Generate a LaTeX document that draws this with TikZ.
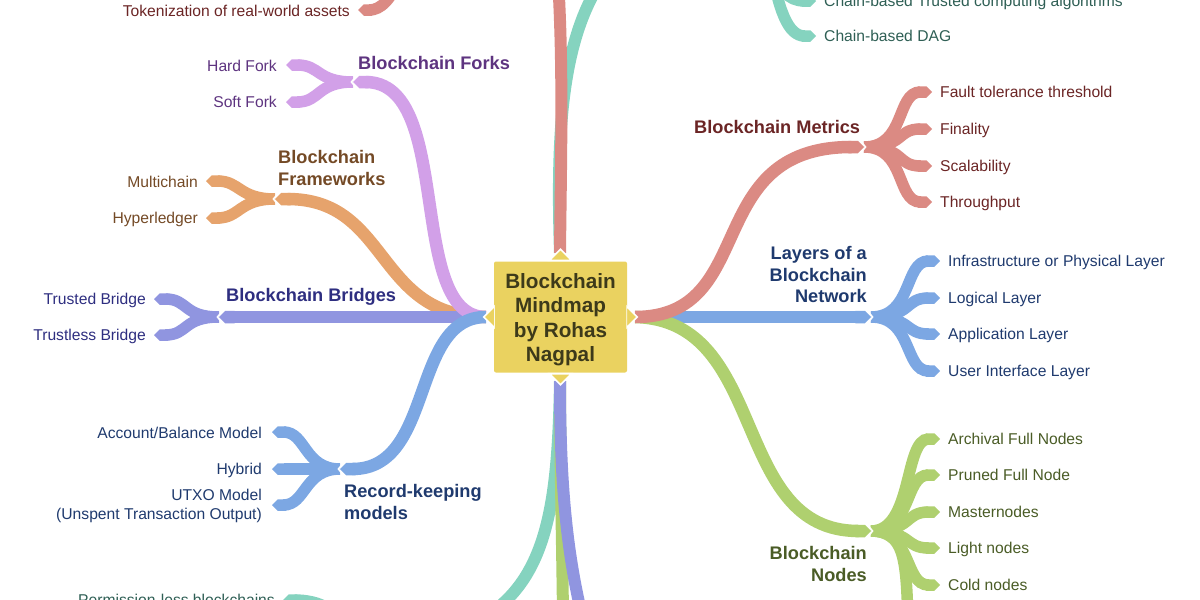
\documentclass[tikz,border=0pt]{standalone}
\usepackage{fontspec}
\setmainfont{Liberation Sans}
\usetikzlibrary{arrows.meta}
\definecolor{cred}{HTML}{DB8A83}\definecolor{tred}{HTML}{6B2525}
\definecolor{cteal}{HTML}{85D3BF}\definecolor{tteal}{HTML}{2F5F55}
\definecolor{cblue}{HTML}{7CA7E3}\definecolor{tblue}{HTML}{1F3A6E}
\definecolor{cgreen}{HTML}{AFD06F}\definecolor{tgreen}{HTML}{4A5C26}
\definecolor{cpurple}{HTML}{D2A0E8}\definecolor{tpurple}{HTML}{5E3480}
\definecolor{corange}{HTML}{E6A36C}\definecolor{torange}{HTML}{744A26}
\definecolor{cindigo}{HTML}{9095E0}\definecolor{tindigo}{HTML}{2E2E80}
\definecolor{cyel}{HTML}{EAD260}\definecolor{tyel}{HTML}{3D3A1A}
\tikzset{
 branch/.style={line width=12.5pt,line cap=butt,-{Triangle Cap[]}},
 leafline/.style={line width=11.5pt,line cap=butt,-{Triangle Cap[]}},
 chevron/.style={draw=white,line width=1.6pt,line join=miter},
 lbl/.style={inner sep=0pt,text height=12pt,text depth=1pt,yshift=-0.4pt,font=\fontsize{15.65}{21}\selectfont},
 ll/.style={lbl,anchor=east,align=right},
 lr/.style={lbl,anchor=west,align=left},
 head/.style={inner sep=0pt,font=\fontsize{18.2}{21.8}\bfseries\selectfont},
 central/.style={fill=cyel,rounded corners=2pt,minimum width=133pt,minimum height=111pt,inner sep=0pt},
 centraltext/.style={inner sep=0pt,align=center,text=tyel,font=\fontsize{20.7}{24.5}\bfseries\selectfont},
 pointer/.style={fill=cyel,draw=white,line width=1.6pt,line join=miter}
}
\newcommand\leafR[3]{\draw[leafline,#1] (#2) .. controls +(42,0) and +(-36,0) .. (#3);}
\newcommand\leafL[3]{\draw[leafline,#1] (#2) .. controls +(-36,0) and +(34,0) .. (#3);}
\newcommand\chevR[1]{\draw[chevron] ([shift={(-5,-8)}]#1) -- ([shift={(1.5,0)}]#1) -- ([shift={(-5,8)}]#1);}
\newcommand\chevL[1]{\draw[chevron] ([shift={(5,-8)}]#1) -- ([shift={(-1.5,0)}]#1) -- ([shift={(5,8)}]#1);}
\begin{document}
\begin{tikzpicture}[x=1pt,y=-1pt]
\useasboundingbox (0,0) rectangle (1200,600);
\clip (0,0) rectangle (1200,600);
% central anchors
\coordinate (cw) at (486,317);
\coordinate (ce) at (635,317);
\coordinate (cn) at (560,253);
\coordinate (cs) at (560,381);
% hubs
\coordinate (hMet) at (864,147);
\coordinate (hLay) at (871,317);
\coordinate (hNod) at (871,531);
\coordinate (hFor) at (353,82);
\coordinate (hFra) at (275,199);
\coordinate (hBri) at (219,317);
\coordinate (hRec) at (340,469);
% off-picture ends
\coordinate (topRed) at (556,-50);
\coordinate (topTeal) at (602,-20);
\coordinate (botTeal) at (488,615);
\coordinate (botGreen) at (563,615);
\coordinate (botIndigo) at (583,620);
\coordinate (hTok) at (400,-25);
\coordinate (hCha) at (770,-40);
\coordinate (botNod) at (908,620);
\coordinate (hPer) at (330,610);
% leaf tips
\coordinate (tFt) at (932,92);\coordinate (tFi) at (932,129);\coordinate (tSc) at (932,166);\coordinate (tTh) at (932,202);
\coordinate (tIn) at (940,261);\coordinate (tLo) at (940,298);\coordinate (tAp) at (940,334);\coordinate (tUs) at (940,371);
\coordinate (tAr) at (940,439);\coordinate (tPr) at (940,475);\coordinate (tMa) at (940,512);\coordinate (tLi) at (940,548);\coordinate (tCo) at (940,585);
\coordinate (tHa) at (286,65);\coordinate (tSo) at (286,102);
\coordinate (tMu) at (206,181);\coordinate (tHy) at (206,218);
\coordinate (tTr) at (154,299);\coordinate (tTl) at (154,335);
\coordinate (tAc) at (272,432);\coordinate (tHb) at (272,469);\coordinate (tUt) at (272,505);
\coordinate (tTok) at (358,10);
\coordinate (tDag) at (816,36);\coordinate (tCtc) at (816,1);
\coordinate (tPer) at (283,600);
% leaves
\foreach \t in {tFt,tFi,tSc,tTh} {\leafR{cred}{hMet}{\t}}
\foreach \t in {tIn,tLo,tAp,tUs} {\leafR{cblue}{hLay}{\t}}
\foreach \t in {tAr,tPr,tMa,tLi,tCo} {\leafR{cgreen}{hNod}{\t}}
\draw[line width=11.5pt,cgreen] (hNod) .. controls +(34,0) and +(-2,-60) .. (botNod);
\foreach \t in {tHa,tSo} {\leafL{cpurple}{hFor}{\t}}
\foreach \t in {tMu,tHy} {\leafL{corange}{hFra}{\t}}
\foreach \t in {tTr,tTl} {\leafL{cindigo}{hBri}{\t}}
\foreach \t in {tAc,tHb,tUt} {\leafL{cblue}{hRec}{\t}}
\draw[leafline,cred] (hTok) .. controls +(-8,25) and +(22,0) .. (tTok);
\draw[leafline,cteal] (hCha) .. controls +(8,50) and +(-28,0) .. (tDag);
\draw[leafline,cteal] (hCha) .. controls +(8,30) and +(-28,0) .. (tCtc);
\draw[leafline,cteal] (hPer) .. controls +(-10,-8) and +(22,0) .. (tPer);
% main branches
\draw[line width=12pt,cteal] (cn) .. controls (556,130) and (562,40) .. (topTeal);
\draw[line width=12pt,cred] (cn) .. controls (561,150) and (564,50) .. (topRed);
\draw[branch,cblue] (ce) -- (hLay);
\draw[branch,cgreen] (ce) .. controls (770,320) and (729,531) .. (hNod);
\draw[branch,cred] (ce) .. controls (760,317) and (700,147) .. (hMet);
\draw[branch,corange] (cw) .. controls (375,317) and (390,199) .. (hFra);
\draw[branch,cindigo] (cw) -- (hBri);
\draw[branch,cpurple] (cw) .. controls (405,317) and (455,82) .. (hFor);
\draw[branch,cblue] (cw) .. controls (410,317) and (435,469) .. (hRec);
\draw[line width=12pt,cteal] (cs) .. controls (558,500) and (548,575) .. (botTeal);
\draw[line width=12pt,cgreen] (cs) .. controls (560,450) and (562,530) .. (botGreen);
\draw[line width=12pt,cindigo] (cs) .. controls (560,480) and (566,550) .. (botIndigo);
% chevrons
\chevR{hMet}\chevR{hLay}\chevR{hNod}
\chevL{hFor}\chevL{hFra}\chevL{hBri}\chevL{hRec}
% central
\node[central] (c) at (560.5,317) {};
\fill[pointer] ([xshift=1]c.west) ++(0,-11) -- ++(-11,11) -- ++(11,11) -- cycle;
\fill[pointer] ([xshift=-1]c.east) ++(0,-11) -- ++(11,11) -- ++(-11,11) -- cycle;
\fill[pointer] ([yshift=1]c.north) ++(-11,0) -- ++(11,-11) -- ++(11,11) -- cycle;
\fill[pointer] ([yshift=-1]c.south) ++(-11,0) -- ++(11,11) -- ++(11,-11) -- cycle;
\node[central,minimum width=131.5pt,minimum height=109.5pt] (c2) at (560.5,317) {};
\node[centraltext] (ctext) at (560.5,319.5) {Blockchain\\Mindmap\\by Rohas\\Nagpal};
% heads
\node[head,anchor=west,text=tred] (nMet) at (694,127) {Blockchain Metrics};
\node[head,anchor=east,align=right,text=tblue] (nLay) at (867,274.5) {Layers of a\\Blockchain\\Network};
\node[head,anchor=east,align=right,text=tgreen] (nNod) at (867,564) {Blockchain\\Nodes};
\node[head,anchor=west,text=tpurple] (nFor) at (358,63) {Blockchain Forks};
\node[head,anchor=west,align=left,text=torange] (nFra) at (278,168) {Blockchain\\Frameworks};
\node[head,anchor=west,text=tindigo] (nBri) at (226,297) {Blockchain Bridges};
\node[head,anchor=west,align=left,text=tblue] (nRec) at (344,502) {Record-keeping\\models};
% leaf labels
\node[lr,text=tred] (lFt) at (940,92) {Fault tolerance threshold};
\node[lr,text=tred] (lFi) at (940,129) {Finality};
\node[lr,text=tred] (lSc) at (940,166) {Scalability};
\node[lr,text=tred] (lTh) at (940,202) {Throughput};
\node[lr,text=tblue] (lIn) at (948,261) {Infrastructure or Physical Layer};
\node[lr,text=tblue] (lLo) at (948,298) {Logical Layer};
\node[lr,text=tblue] (lAp) at (948,334) {Application Layer};
\node[lr,text=tblue] (lUs) at (948,371) {User Interface Layer};
\node[lr,text=tgreen] (lAr) at (948,439) {Archival Full Nodes};
\node[lr,text=tgreen] (lPr) at (948,475) {Pruned Full Node};
\node[lr,text=tgreen] (lMa) at (948,512) {Masternodes};
\node[lr,text=tgreen] (lLi) at (948,548) {Light nodes};
\node[lr,text=tgreen] (lCo) at (948,585) {Cold nodes};
\node[lr,text=tteal] (lDag) at (824,36) {Chain-based DAG};
\node[lr,text=tteal] (lCtc) at (824,1) {Chain-based Trusted computing algorithms};
\node[ll,text=tred] (lTok) at (350,11) {Tokenization of real-world assets};
\node[ll,text=tpurple] (lHa) at (277,66) {Hard Fork};
\node[ll,text=tpurple] (lSo) at (277,102) {Soft Fork};
\node[ll,text=torange] (lMu) at (198,182) {Multichain};
\node[ll,text=torange] (lHy) at (198,218) {Hyperledger};
\node[ll,text=tindigo] (lTr) at (146,299) {Trusted Bridge};
\node[ll,text=tindigo] (lTl) at (146,335) {Trustless Bridge};
\node[ll,text=tblue] (lAc) at (262,433) {Account/Balance Model};
\node[ll,text=tblue] (lHb) at (262,469) {Hybrid};
\node[inner sep=0pt,anchor=east,align=right,text=tblue,font=\fontsize{15.65}{19}\selectfont] (lUt) at (262,506) {UTXO Model\\(Unspent Transaction Output)};
\node[ll,text=tteal] (lPer) at (275,600) {Permission-less blockchains};
\end{tikzpicture}
\end{document}
